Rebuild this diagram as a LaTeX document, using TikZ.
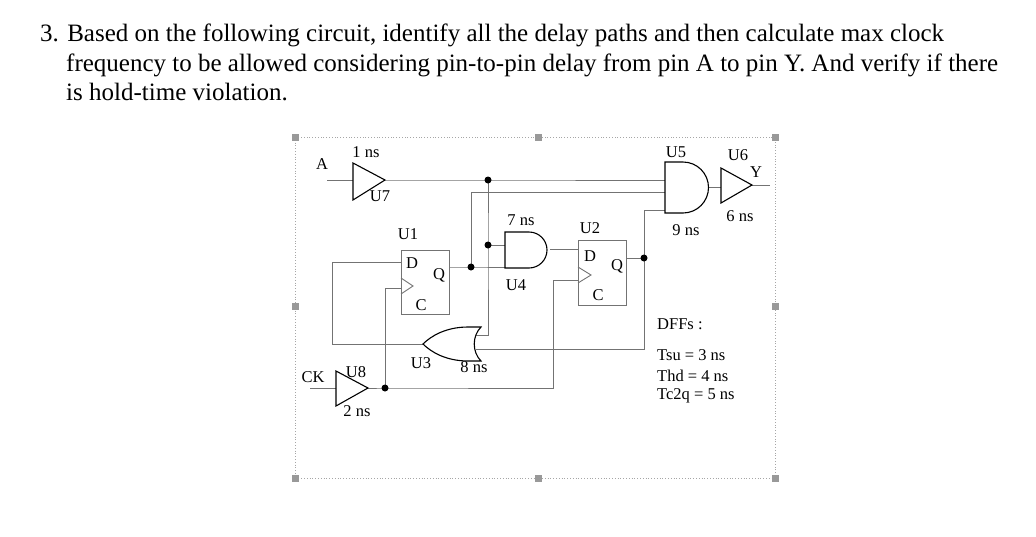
\documentclass[tikz,border=0pt]{standalone}
\usepackage{fontspec}
\setmainfont{Liberation Serif}
\begin{document}
\begin{tikzpicture}[x=1pt,y=-1pt,
  wire/.style={draw=gray!90!black,line width=0.9pt},
  gate/.style={draw=black,line width=1.1pt,fill=white},
  box/.style={draw=gray!90!black,line width=0.9pt},
  dot/.style={circle,fill=black,inner sep=0pt,minimum size=7pt},
  lbl/.style={font=\fontsize{16.5}{17}\selectfont,inner sep=0pt},
  handle/.style={fill=gray!80,draw=none,minimum size=7pt,inner sep=0pt}]
\useasboundingbox (0,0) rectangle (1036,536);
% question text
\node[anchor=base west,inner sep=0pt,font=\fontsize{25}{30}\selectfont] (q1) at (40,41) {3. Based on the following circuit, identify all the delay paths and then calculate max clock};
\node[anchor=base west,inner sep=0pt,font=\fontsize{25}{30}\selectfont] (q2) at (66,71) {frequency to be allowed considering pin-to-pin delay from pin A to pin Y. And verify if there};
\node[anchor=base west,inner sep=0pt,font=\fontsize{25}{30}\selectfont] (q3) at (66,100) {is hold-time violation.};
% frame
\draw[gray!70,dotted,line width=0.8pt] (295,137) rectangle (775,478);
\foreach \p/\n in {{(295,137)}/h1,{(538,137)}/h2,{(775,137)}/h3,{(295,306)}/h4,{(775,306)}/h5,{(295,478)}/h6,{(538,478)}/h7,{(775,478)}/h8}
  \node[handle] (\n) at \p {};
% coordinates
\coordinate (ain) at (327,180);
\coordinate (dA) at (488,180);
\coordinate (dB) at (488,245);
\coordinate (dQ1) at (471,267);
\coordinate (dQ2) at (644,258);
\coordinate (dCK) at (385,388);
% wires
\draw[wire] (ain) -- (353,180);
\draw[wire] (385,180) -- (dA) -- (665,180);
\draw[wire] (dA) -- (dB) -- (488,335) -- (476,335);
\draw[wire] (dB) -- (505,245);
\draw[wire] (449,267) -- (dQ1) -- (505,267);
\draw[wire] (dQ1) -- (471,192) -- (665,192);
\draw[wire] (626,258) -- (dQ2) -- (644,210) -- (665,210);
\draw[wire] (dQ2) -- (644,349) -- (476,349);
\draw[wire] (550,249) -- (578,249);
\draw[wire] (423,344) -- (332,344) -- (332,262) -- (401,262);
\draw[wire] (310,388) -- (336,388);
\draw[wire] (368,388) -- (dCK) -- (553,388) -- (553,280) -- (578,280);
\draw[wire] (dCK) -- (385,288) -- (401,288);
\draw[wire] (752,185) -- (770,185);
\draw[wire] (709,187) -- (721,187);
% flip-flops
\draw[box] (401,250) rectangle (449,314);
\draw[box] (401,278) -- (413,286) -- (401,294);
\draw[box] (578,240) rectangle (626,305);
\draw[box] (578,267) -- (591,275) -- (578,283);
% buffers
\draw[gate] (353,163) -- (385,180) -- (353,200) -- cycle;
\draw[gate] (336,371) -- (368,388) -- (336,406) -- cycle;
\draw[gate] (721,168) -- (752,185) -- (721,203) -- cycle;
% AND gates
\draw[gate] (665,162) -- (683,162) arc[start angle=-90,end angle=90,radius=25.5] -- (665,213) -- cycle;
\draw[gate] (505,232) -- (529,232) arc[start angle=-90,end angle=90,radius=18] -- (505,268) -- cycle;
% OR gate
\draw[gate] (481,327) .. controls (472,336) and (472,352) .. (481,361) -- (468,361)
  .. controls (446,361) and (431,352) .. (423,344) .. controls (431,336) and (446,327) .. (468,327) -- cycle;
% dots
\foreach \d in {dA,dB,dQ1,dQ2,dCK} \node[dot] at (\d) {};
% labels
\node[lbl] (lA) at (322,164) {A};
\node[lbl] (l1) at (366,152) {1 ns};
\node[lbl] (lU7) at (380,196) {U7};
\node[lbl] (lU5) at (676,152) {U5};
\node[lbl] (lU6) at (738,155) {U6};
\node[lbl] (lY) at (756,172) {Y};
\node[lbl] (l6) at (740,216) {6 ns};
\node[lbl] (l9) at (686,230) {9 ns};
\node[lbl] (l7) at (521,220) {7 ns};
\node[lbl] (lU4) at (516,285) {U4};
\node[lbl] (lU1) at (408,234) {U1};
\node[lbl] (lU2) at (590,228) {U2};
\node[lbl] (D1) at (412,263) {D};
\node[lbl] (Q1) at (439,275) {Q};
\node[lbl] (C1) at (421,305) {C};
\node[lbl] (D2) at (590,256) {D};
\node[lbl] (Q2) at (617,266) {Q};
\node[lbl] (C2) at (598,295) {C};
\node[lbl] (lU3) at (421,363) {U3};
\node[lbl] (l8) at (474,367) {8 ns};
\node[lbl] (lCK) at (313,377) {CK};
\node[lbl] (lU8) at (356,372) {U8};
\node[lbl] (l2) at (357,411) {2 ns};
\node[lbl,anchor=west] (t0) at (657,324) {DFFs :};
\node[lbl,anchor=west] (t1) at (657,355) {Tsu = 3 ns};
\node[lbl,anchor=west] (t2) at (657,376) {Thd = 4 ns};
\node[lbl,anchor=west] (t3) at (657,396) {Tc2q = 5 ns};
\end{tikzpicture}
\end{document}
